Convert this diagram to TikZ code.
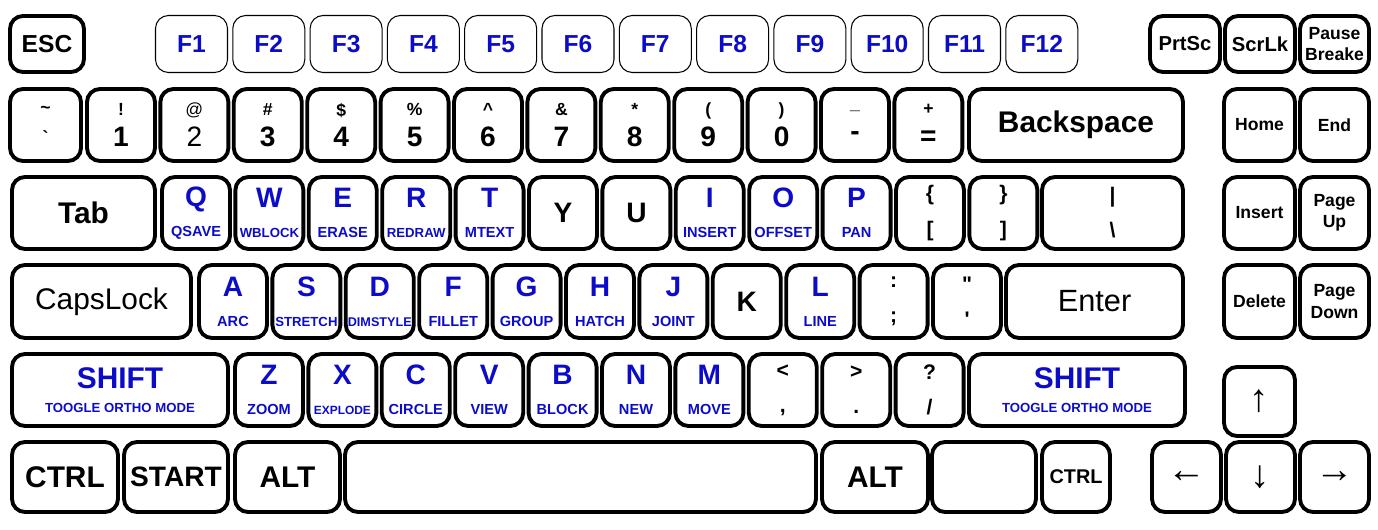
\documentclass[tikz,border=0pt]{standalone}
\usepackage{fontspec}
\newfontfamily\keyfont{Liberation Sans}
\definecolor{keyblue}{RGB}{12,12,200}
\newcommand{\keyfs}[2]{\fontsize{#1}{#2}\selectfont}
\newcommand{\keyltr}[1]{{\keyfs{16}{16}#1}}
\newcommand{\cmdsm}{\keyfs{7.5}{7.5}}

\tikzset{
  kdim/.style 2 args={minimum width=#1*0.02cm,minimum height=#2*0.02cm},
  key/.style={draw,line width=2.2pt,rounded corners=0.26cm,inner sep=0pt,outer sep=0pt,
    align=center,font=\keyfont\bfseries\keyfs{17}{17}},
  fkey/.style={key,line width=0.6pt,text=keyblue,font=\keyfont\bfseries\keyfs{14}{14}},
  numkey/.style={key,font=\keyfont\bfseries\keyfs{10}{17.5}},
  cmdkey/.style={key,text=keyblue,font=\keyfont\bfseries\keyfs{8.3}{17}},
  ltrkey/.style={key,font=\keyfont\bfseries\keyfs{16}{16}},
  symkey/.style={key,font=\keyfont\bfseries\keyfs{12}{20}},
  smallkey/.style={key,font=\keyfont\bfseries\keyfs{10}{12}},
  shiftkey/.style={key,text=keyblue,font=\keyfont\bfseries\keyfs{7.5}{14}},
  arrowkey/.style={key,font=\keyfont\keyfs{22}{22}}
}

\begin{document}
\begin{tikzpicture}[x=0.02cm,y=-0.02cm]
   \useasboundingbox (0,0) rectangle (1378,530);
   \path (47,44) node[key,kdim={74}{56},font=\keyfont\bfseries\keyfs{14}{14}] (esc) {ESC};
   \foreach \i in {1,...,12}
     \path ({191.5+(\i-1)*77.3},44) node[fkey,kdim={72}{57}] (f\i) {F\i};
   \path (1185,44) node[key,kdim={70}{56},font=\keyfont\bfseries\keyfs{11.5}{11.5}] (prtsc) {PrtSc};
   \path (1260,44) node[key,kdim={70}{56},font=\keyfont\bfseries\keyfs{11.5}{11.5}] (scrlk) {ScrLk};
   \path (1334.5,44) node[smallkey,kdim={69}{56}] (pause) {Pause\\Breake};

   \path (45.5,125) node[numkey,kdim={71}{72}] (tilde) {\textasciitilde\\\textasciigrave};
   \foreach \up/\dn [count=\i] in {!/1,\mdseries @/\mdseries 2,\#/3,\$/4,\%/5,\textasciicircum/6,\&/7,*/8,{(}/9,{)}/0,\_/-,+/=}
     \path ({121+(\i-1)*73.4},125) node[numkey,kdim={68}{72}] (n\i) {\up\\{\keyfs{16}{16}\dn}};
   \path (1076,125) node[key,kdim={214}{72}] (bksp) {Backspace};
   \path (1259.5,125) node[smallkey,kdim={71}{72}] (home) {Home};
   \path (1334.5,125) node[smallkey,kdim={69}{72}] (end) {End};

   \path (83.5,213) node[key,kdim={143}{72}] (tab) {Tab};
   \foreach \j/\l/\c in {0/Q/QSAVE,1/W/\cmdsm WBLOCK,2/E/ERASE,3/R/\cmdsm REDRAW,4/T/MTEXT,7/I/INSERT,8/O/OFFSET,9/P/PAN}
     \path ({196+\j*73.4},213) node[cmdkey,kdim={68}{72}] (k\l) {\keyltr{\l}\\\c};
   \path ({196+5*73.4},213) node[ltrkey,kdim={68}{72}] (kY) {Y};
   \path ({196+6*73.4},213) node[ltrkey,kdim={68}{72}] (kU) {U};
   \path ({196+10*73.4},213) node[symkey,kdim={68}{72}] (lbrace) {\{\\{[}};
   \path ({196+11*73.4},213) node[symkey,kdim={68}{72}] (rbrace) {\}\\{]}};
   \path (1112.5,213) node[symkey,kdim={141}{72}] (bslash) {|\\\textbackslash};
   \path (1259.5,213) node[smallkey,kdim={71}{72}] (ins) {Insert};
   \path (1334.5,213) node[smallkey,kdim={69}{72}] (pgup) {Page\\Up};

   \path (101.5,301.5) node[key,kdim={179}{73},font=\keyfont\keyfs{17}{17}] (caps) {CapsLock};
   \foreach \j/\l/\c in {0/A/ARC,1/S/\cmdsm STRETCH,2/D/\keyfs{7.2}{7.2}DIMSTYLE,3/F/FILLET,4/G/GROUP,5/H/HATCH,6/J/JOINT,8/L/LINE}
     \path ({233+\j*73.4},301.5) node[cmdkey,kdim={68}{73}] (k\l) {\keyltr{\l}\\\c};
   \path ({233+7*73.4},301.5) node[ltrkey,kdim={68}{73}] (kK) {K};
   \path ({233+9*73.4},301.5) node[symkey,kdim={68}{73}] (semi) {:\\;};
   \path ({233+10*73.4},301.5) node[symkey,kdim={68}{73}] (quote) {"\\'};
   \path (1094.5,301.5) node[key,kdim={177}{73},font=\keyfont\keyfs{17.5}{17.5}] (enter) {Enter};
   \path (1259.5,301.5) node[smallkey,kdim={71}{73}] (del) {Delete};
   \path (1334.5,301.5) node[smallkey,kdim={69}{73}] (pgdn) {Page\\Down};

   \path (120,390) node[shiftkey,kdim={216}{72}] (lshift) {{\keyfs{17}{17}SHIFT}\\TOOGLE ORTHO MODE};
   \foreach \j/\l/\c in {0/Z/ZOOM,1/X/\keyfs{6.8}{6.8}EXPLODE,2/C/CIRCLE,3/V/VIEW,4/B/BLOCK,5/N/NEW,6/M/MOVE}
     \path ({269+\j*73.4},390) node[cmdkey,kdim={68}{72}] (k\l) {\keyltr{\l}\\\c};
   \path ({269+7*73.4},390) node[symkey,kdim={68}{72}] (less) {<\\,};
   \path ({269+8*73.4},390) node[symkey,kdim={68}{72}] (greater) {>\\.};
   \path ({269+9*73.4},390) node[symkey,kdim={68}{72}] (slash) {?\\/};
   \path (1077,390) node[shiftkey,kdim={216}{72}] (rshift) {{\keyfs{17}{17}SHIFT}\\TOOGLE ORTHO MODE};
   \path (1259.5,401.5) node[arrowkey,kdim={71}{69}] (up) {↑};

   \path (65,477) node[key,kdim={106}{70}] (lctrl) {CTRL};
   \path (176,477) node[key,kdim={104}{70},font=\keyfont\bfseries\keyfs{16}{16}] (start) {START};
   \path (287.5,477) node[key,kdim={105}{70}] (lalt) {ALT};
   \path (580.5,477) node[key,kdim={471}{70}] (space) {};
   \path (875,477) node[key,kdim={106}{70}] (ralt) {ALT};
   \path (984,477) node[key,kdim={104}{70}] (blank) {};
   \path (1076,477) node[key,kdim={68}{70},font=\keyfont\bfseries\keyfs{11.3}{11.3}] (rctrl) {CTRL};
   \path (1186.5,477) node[arrowkey,kdim={69}{70}] (left) {←};
   \path (1260.5,477) node[arrowkey,kdim={69}{70}] (down) {↓};
   \path (1334.5,477) node[arrowkey,kdim={69}{70}] (right) {→};
\end{tikzpicture}
\end{document}
